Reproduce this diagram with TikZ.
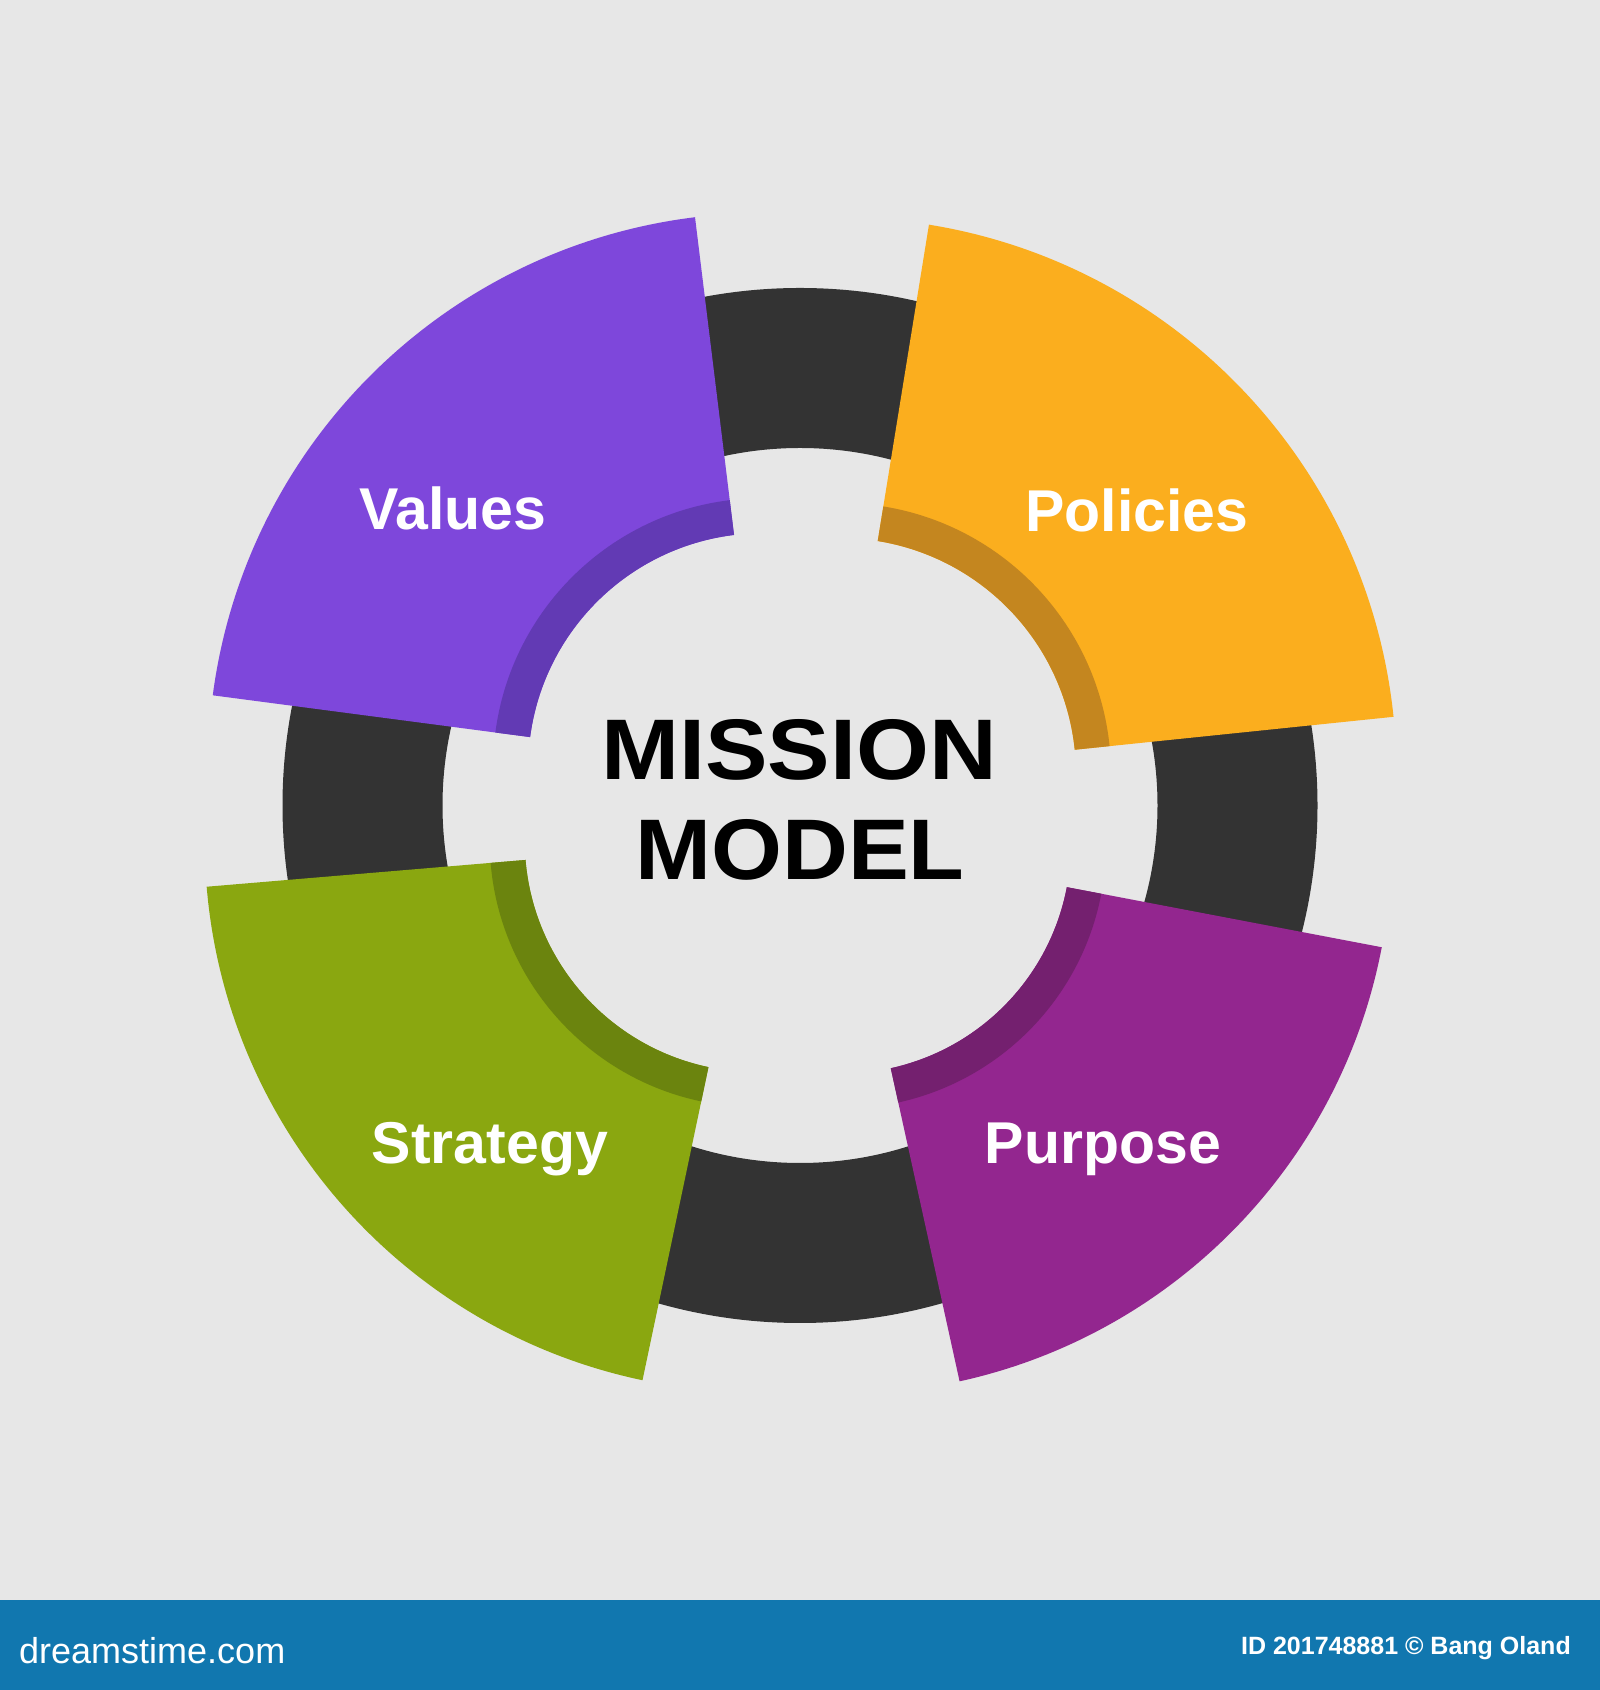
\documentclass[tikz,border=0pt]{standalone}
\usepackage{fontspec}
\usepackage{graphicx}
\setmainfont{Liberation Sans}
\definecolor{bg}{HTML}{E7E7E7}
\definecolor{ringc}{HTML}{333333}
\definecolor{valc}{HTML}{7E47DB}
\definecolor{valb}{HTML}{623AB4}
\definecolor{polc}{HTML}{FBAE1E}
\definecolor{polb}{HTML}{C4861F}
\definecolor{strc}{HTML}{8AA710}
\definecolor{strb}{HTML}{6B840E}
\definecolor{purc}{HTML}{93268F}
\definecolor{purb}{HTML}{74206F}
\definecolor{barc}{HTML}{1177AF}
% #1 cx, #2 cy, #3 inner r, #4 band r, #5 outer r, #6 start angle, #7 end angle, #8 fill, #9 band
\newcommand\segpiece[9]{%
  \fill[#8] ([shift={(#1,#2)}]#6:#5pt) arc[start angle=#6,end angle=#7,radius=#5pt]
    -- ([shift={(#1,#2)}]#7:#3pt) arc[start angle=#7,end angle=#6,radius=#3pt] -- cycle;
  \begin{scope}
    \clip ([shift={(#1,#2)}]#6:#5pt) arc[start angle=#6,end angle=#7,radius=#5pt]
      -- ([shift={(#1,#2)}]#7:#3pt) arc[start angle=#7,end angle=#6,radius=#3pt] -- cycle;
    \fill[#9] (#1,#2) circle[radius=#4pt];
  \end{scope}}
\begin{document}
\begin{tikzpicture}[x=1pt,y=1pt,
  lbl/.style={text=white,font=\fontsize{59}{59}\selectfont\bfseries,inner sep=0pt,anchor=base},
  ttl/.style={text=black,font=\fontsize{86}{86}\selectfont\bfseries,inner sep=0pt,anchor=base}]
\useasboundingbox (0,0) rectangle (1600,1690);
\fill[bg] (0,0) rectangle (1600,1690);
% dark ring
\fill[ringc,even odd rule] (800,884.5) circle[radius=517.5pt] (800,884.5) circle[radius=357.5pt];
% segments
\segpiece{762.6}{922.3}{234.5}{269.5}{554.6}{97.0}{172.5}{valc}{valb}
\segpiece{840}{916}{236}{271}{556.5}{5.9}{80.8}{polc}{polb}
\segpiece{756.2}{849.4}{231.5}{266.5}{551.5}{184.8}{258.1}{strc}{strb}
\segpiece{841.5}{845.8}{229.4}{264.4}{550}{-77.6}{-10.8}{purc}{purb}
% labels
\node[lbl] (values) at (453,1160) {Values};
\node[lbl] (policies) at (1137,1158) {Policies};
\node[lbl] (strategy) at (490,526) {Strategy};
\node[lbl] (purpose) at (1103,526) {Purpose};
\node[ttl] (mission) at (799,910) {\scalebox{1.09}[1]{MISSION}};
\node[ttl] (model) at (800,810) {\scalebox{1.06}[1]{MODEL}};
% bottom bar
\fill[barc] (0,0) rectangle (1600,90);
\node[anchor=base west,text=white,font=\fontsize{36}{36}\selectfont,inner sep=0pt] (dt) at (19,26) {dreamstime.com};
\node[anchor=base east,text=white,font=\fontsize{25}{25}\selectfont\bfseries,inner sep=0pt] (id) at (1571,35) {ID 201748881 © Bang Oland};
\end{tikzpicture}
\end{document}
